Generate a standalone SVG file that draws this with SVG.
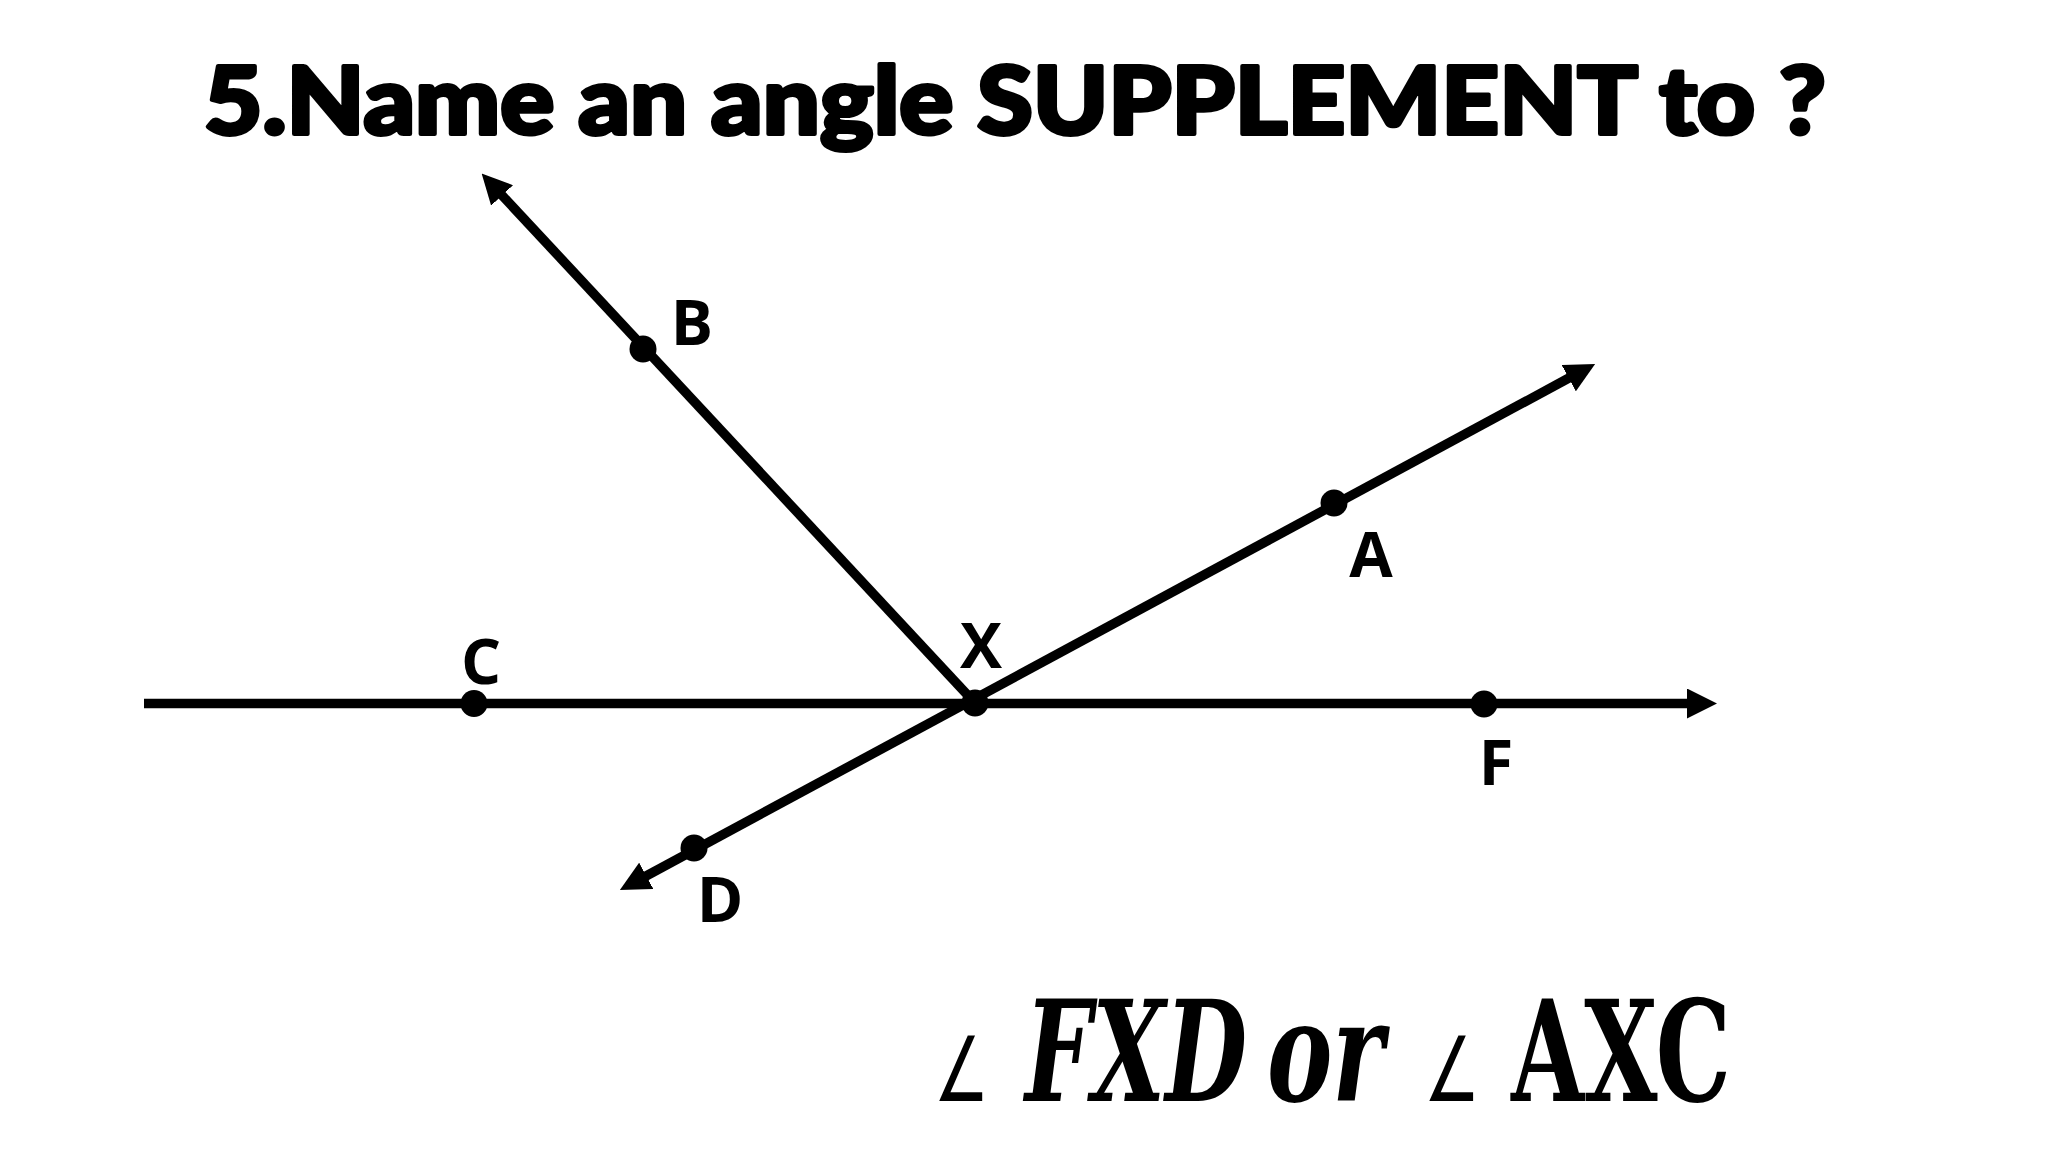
<svg xmlns="http://www.w3.org/2000/svg" width="2048" height="1152" viewBox="0 0 2048 1152">
  <style>
    .ln { stroke: #000; stroke-width: 9.5; fill: none; }
    .dot { fill: #000; }
    .lbl { font-family: "Open Sans", "Noto Sans", "DejaVu Sans", sans-serif; font-weight: bold; font-size: 63px; fill: #000; text-anchor: middle; }
    .title { font-family: Lato, "Open Sans", sans-serif; font-weight: 900; font-size: 94px; fill: #000; stroke: #000; stroke-width: 4; stroke-linejoin: round; }
    .ans { font-family: "DejaVu Serif", "Liberation Serif", serif; font-weight: bold; font-size: 140px; font-stretch: condensed; fill: #000; }
    .ang { font-family: "DejaVu Sans", sans-serif; font-size: 90px; fill: #000; }
  </style>
  <defs>
    <marker id="arr" markerUnits="userSpaceOnUse" markerWidth="30" markerHeight="30" viewBox="0 -15 30 30" refX="6" refY="0" orient="auto-start-reverse">
      <path d="M0,-15 L30,0 L0,15 Z" fill="#000"/>
    </marker>
  </defs>
  <rect width="2048" height="1152" fill="#fff"/>

  <g id="title">
    <text class="title" x="204" y="134" textLength="1622" lengthAdjust="spacingAndGlyphs">5.Name an angle SUPPLEMENT to ?</text>
  </g>

  <g id="connectors">
    <line class="ln" x1="144" y1="703.5" x2="1693" y2="703.5" marker-end="url(#arr)"/>
    <line class="ln" x1="975" y1="703" x2="498" y2="191" marker-end="url(#arr)"/>
    <line class="ln" x1="641" y1="878.7" x2="1574" y2="375.3" marker-start="url(#arr)" marker-end="url(#arr)"/>
  </g>

  <g id="node-X">
    <circle class="dot" cx="975" cy="703" r="13.5"/>
    <text class="lbl" x="981" y="668">X</text>
  </g>
  <g id="node-B">
    <circle class="dot" cx="643" cy="349" r="13.5"/>
    <text class="lbl" x="692" y="345">B</text>
  </g>
  <g id="node-A">
    <circle class="dot" cx="1334" cy="503" r="13.5"/>
    <text class="lbl" x="1371" y="577">A</text>
  </g>
  <g id="node-C">
    <circle class="dot" cx="474" cy="703.5" r="13.5"/>
    <text class="lbl" x="481" y="684">C</text>
  </g>
  <g id="node-F">
    <circle class="dot" cx="1484" cy="704" r="13.5"/>
    <text class="lbl" x="1496" y="785">F</text>
  </g>
  <g id="node-D">
    <circle class="dot" cx="694" cy="848" r="13.5"/>
    <text class="lbl" x="720" y="922">D</text>
  </g>

  <g id="answer">
    <text class="ang" x="934" y="1101" textLength="55" lengthAdjust="spacingAndGlyphs">∠</text>
    <text class="ans" x="1025" y="1101" font-style="italic" textLength="222" lengthAdjust="spacingAndGlyphs">FXD</text>
    <text class="ans" x="1267" y="1101" font-style="italic" textLength="117" lengthAdjust="spacingAndGlyphs">or</text>
    <text class="ang" x="1424" y="1101" textLength="56" lengthAdjust="spacingAndGlyphs">∠</text>
    <text class="ans" x="1511" y="1101" textLength="220" lengthAdjust="spacingAndGlyphs">AXC</text>
  </g>
</svg>
